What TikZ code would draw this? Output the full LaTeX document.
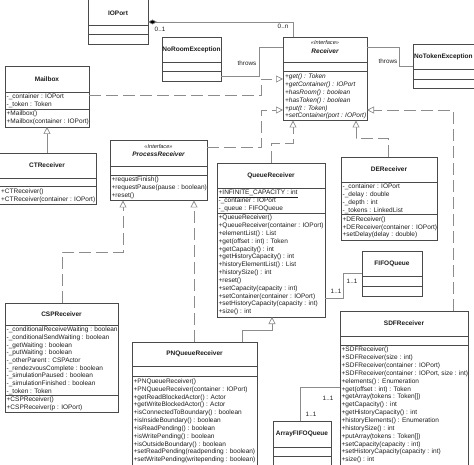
\documentclass[tikz,border=0pt]{standalone}
\usepackage{fontspec}
\setmainfont{Liberation Sans}
\usetikzlibrary{arrows.meta,fit}
\definecolor{boxc}{HTML}{4A4A4A}
\definecolor{linec}{HTML}{8C8C8C}
\definecolor{txtc}{HTML}{1E1E1E}
\tikzset{
 clsbox/.style={draw=boxc, line width=0.8pt, inner sep=0pt, outer sep=0pt},
 sepline/.style={draw=boxc, line width=0.8pt},
 txt/.style={inner sep=0pt, font=\fontsize{6.5}{7.8}\selectfont, text=txtc},
 ttl/.style={inner sep=0pt, font=\fontsize{6.5}{7.8}\selectfont\bfseries, text=txtc},
 stereo/.style={inner sep=0pt, font=\fontsize{5.6}{6}\selectfont\itshape, text=txtc},
 lbl/.style={inner sep=0pt, font=\fontsize{6.3}{7}\selectfont, text=txtc},
 assoc/.style={draw=linec, line width=0.7pt},
 real/.style={draw=linec, line width=0.7pt, dash pattern=on 12pt off 5pt,
   -{Triangle[open,length=7pt,width=7pt,fill=white,line width=0.7pt]}},
 gen/.style={draw=linec, line width=0.7pt,
   -{Triangle[open,length=7pt,width=7pt,fill=white,line width=0.7pt]}},
}
\newcommand\umlbox[5]{\node[clsbox, fit={(#2,#3) (#4,#5)}] (#1) {};}
\newcommand\sect[2]{\draw[sepline] (#1.west |- 0,#2) -- (#1.east |- 0,#2);}
\newcommand\mlines[6][]{%
  \foreach \t [count=\i from 0] in {#6} {\node[txt, anchor=base west, #1] (#2-\i) at (#3, {#4+2.3+\i*#5}) {\t};}}
\begin{document}
\begin{tikzpicture}[x=1pt,y=-1pt]
\useasboundingbox (0,0) rectangle (474,465);
\clip (0,0) rectangle (474,465);
\fill[white] (0,0) rectangle (474,465);

% IOPort
\umlbox{ioport}{88}{-3}{148}{44}
\sect{ioport}{25}\sect{ioport}{34}
\node[ttl] (ioport-t) at (118,13) {IOPort};

% NoRoomException
\umlbox{noroom}{162}{37}{221}{81}
\sect{noroom}{62}\sect{noroom}{71}
\node[ttl] (noroom-t) at (191.5,49.5) {NoRoomException};

% Receiver
\umlbox{recv}{283}{37}{367}{120.5}
\sect{recv}{62}\sect{recv}{71}
\node[stereo] (recv-s) at (325,43) {«Interface»};
\node[ttl, font=\fontsize{6.5}{7.8}\selectfont\bfseries\itshape] (recv-t) at (325,51) {Receiver};
\mlines[font=\fontsize{6.5}{7.8}\selectfont\itshape]{recv-m}{285}{76.7}{7.8}{+get() : Token, +getContainer() : IOPort, +hasRoom() : boolean, +hasToken() : boolean, +put(t : Token), +setContainer(port : IOPort)}

% NoTokenException
\umlbox{notoken}{413}{44}{490}{88}
\sect{notoken}{69}\sect{notoken}{79}
\node[ttl, anchor=west] (notoken-t) at (414,56.5) {NoTokenException};

% Mailbox
\umlbox{mailbox}{5}{66}{89}{127}
\sect{mailbox}{92}\sect{mailbox}{109}
\node[ttl] (mailbox-t) at (47,79) {Mailbox};
\mlines{mailbox-a}{6.5}{96.5}{7.8}{-\_container : IOPort, -\_token : Token}
\mlines{mailbox-m}{6.5}{113.5}{7.8}{+Mailbox(), +Mailbox(container : IOPort)}

% CTReceiver
\umlbox{ct}{-1}{153}{96}{204.5}
\sect{ct}{178}\sect{ct}{186.5}
\node[ttl] (ct-t) at (47,165.5) {CTReceiver};
\mlines{ct-m}{1}{191}{7.8}{+CTReceiver(), +CTReceiver(container : IOPort)}

% ProcessReceiver
\umlbox{proc}{110}{140}{207}{200.5}
\sect{proc}{166}\sect{proc}{175}
\node[stereo] (proc-s) at (158.5,146) {«Interface»};
\node[ttl, font=\fontsize{6.5}{7.8}\selectfont\bfseries\itshape] (proc-t) at (158.5,154) {ProcessReceiver};
\mlines{proc-m}{111.5}{179.5}{7.8}{+requestFinish(), +requestPause(pause : boolean), +reset()}

% QueueReceiver
\umlbox{queue}{217}{163}{325}{317}
\sect{queue}{188}\sect{queue}{213}
\node[ttl] (queue-t) at (271,175.5) {QueueReceiver};
\mlines{queue-a}{218.5}{192.5}{7.8}{\underline{+INFINITE\_CAPACITY : int}, -\_container : IOPort, -\_queue : FIFOQueue}
\mlines{queue-m}{218.5}{217.5}{7.83}{+QueueReceiver(), +QueueReceiver(container : IOPort), +elementList() : List, +get(offset : int) : Token, +getCapacity() : int, +getHistoryCapacity() : int, +historyElementList() : List, +historySize() : int, +reset(), +setCapacity(capacity : int), +setContainer(container : IOPort), +setHistoryCapacity(capacity : int), +size() : int}

% DEReceiver
\umlbox{de}{341}{157}{437}{240}
\sect{de}{182}\sect{de}{214.5}
\node[ttl] (de-t) at (389,169.5) {DEReceiver};
\mlines{de-a}{342.5}{186.5}{7.8}{-\_container : IOPort, -\_delay : double, -\_depth : int, -\_tokens : LinkedList}
\mlines{de-m}{342.5}{219}{7.8}{+DEReceiver(), +DEReceiver(container : IOPort), +setDelay(delay : double)}

% FIFOQueue
\umlbox{fifo}{362}{251}{422}{296}
\sect{fifo}{276}\sect{fifo}{286}
\node[ttl] (fifo-t) at (392,263.5) {FIFOQueue};

% CSPReceiver
\umlbox{csp}{5}{303}{118}{412}
\sect{csp}{325}\sect{csp}{395}
\node[ttl] (csp-t) at (61.5,314) {CSPReceiver};
\mlines{csp-a}{6.5}{329.5}{7.65}{-\_conditionalReceiveWaiting : boolean, -\_conditionalSendWaiting : boolean, -\_getWaiting : boolean, -\_putWaiting : boolean, -\_otherParent : CSPActor, -\_rendezvousComplete : boolean, -\_simulationPaused : boolean, -\_simulationFinished : boolean, -\_token : Token}
\mlines{csp-m}{6.5}{399.5}{7.7}{+CSPReceiver(), +CSPReceiver(p : IOPort)}

% PNQueueReceiver
\umlbox{pn}{132}{342}{257}{480}
\sect{pn}{366}\sect{pn}{376}
\node[ttl] (pn-t) at (194.5,354) {PNQueueReceiver};
\mlines{pn-m}{133.5}{381}{7.85}{+PNQueueReceiver(), +PNQueueReceiver(container : IOPort), +getReadBlockedActor() : Actor, +getWriteBlockedActor() : Actor, +isConnectedToBoundary() : boolean, +isInsideBoundary() : boolean, +isReadPending() : boolean, +isWritePending() : boolean, +isOutsideBoundary() : boolean, +setReadPending(readpending : boolean), +setWritePending(writepending : boolean)}

% SDFReceiver
\umlbox{sdf}{340}{311}{468}{480}
\sect{sdf}{336}\sect{sdf}{345}
\node[ttl] (sdf-t) at (404,323.5) {SDFReceiver};
\mlines{sdf-m}{341.5}{349.5}{7.85}{+SDFReceiver(), +SDFReceiver(size : int), +SDFReceiver(container : IOPort), {+SDFReceiver(container : IOPort, size : int)}, +elements() : Enumeration, +get(offset : int) : Token, +getArray(tokens : Token[]), +getCapacity() : int, +getHistoryCapacity() : int, +historyElements() : Enumeration, +historySize() : int, +putArray(tokens : Token[]), +setCapacity(capacity : int), +setHistoryCapacity(capacity : int), +size() : int}

% ArrayFIFOQueue
\umlbox{arrq}{273}{421}{331}{480}
\sect{arrq}{447}\sect{arrq}{456}
\node[ttl] (arrq-t) at (302,434) {ArrayFIFOQueue};

% ---- connectors ----
\draw[assoc, {Diamond[length=9pt,width=5pt,fill=black]}-] (ioport.east |- 0,22) -| (recv.north -| 293,0);
\node[lbl] (m01) at (160,29) {0..1};
\node[lbl] (m0n) at (283,26) {0..n};

\draw[assoc] (noroom.east |- 0,76) -| (259,47) -- (recv.west |- 0,47);
\node[lbl] (thr1) at (247,63) {throws};
\draw[assoc] (recv.east |- 0,47) -| (399,66) -- (notoken.west |- 0,66);
\node[lbl] (thr2) at (388,61) {throws};

\draw[real] (mailbox.east |- 0,95) -| (261,79) -- (recv.west |- 0,79);
\draw[real] (proc.east |- 0,147) -| (261,110) -- (recv.west |- 0,110);
\draw[real] (queue.north -| 271,0) |- (293,143) -- (recv.south -| 293,0);
\draw[real] (de.north -| 388,0) |- (356,138) -- (recv.south -| 356,0);
\draw[real] (sdf.north -| 453,0) |- (recv.east |- 0,110);

\draw[gen] (ct.north -| 47,0) -- (mailbox.south -| 47,0);
\draw[real] (csp.north -| 62,0) |- (123,252) -- (proc.south -| 123,0);
\draw[real] (pn.north -| 194,0) -- (proc.south -| 194,0);
\draw[gen] (pn.north -| 242,0) |- (272,330) -- (queue.south -| 272,0);

\draw[assoc] (queue.east |- 0,298) -| (343,273) -- (fifo.west |- 0,273);
\node[lbl] (m11a) at (352,281) {1..1};
\node[lbl] (m11b) at (336,291) {1..1};
\draw[assoc] (sdf.west |- 0,387) -| (arrq.north -| 300,0);
\node[lbl] (m11c) at (328,398) {1..1};
\node[lbl] (m11d) at (311,414) {1..1};
\end{tikzpicture}
\end{document}
